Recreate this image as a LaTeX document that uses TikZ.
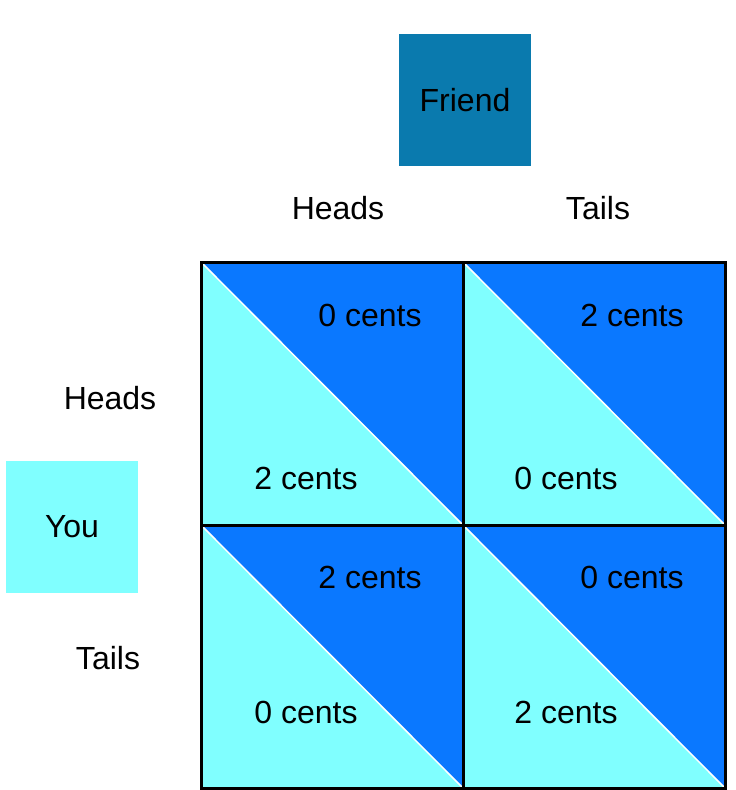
\documentclass[tikz,border=0pt]{standalone}
\usepackage{fontspec}
\setmainfont{Liberation Sans}
\definecolor{dark}{HTML}{0A78FF}
\definecolor{light}{HTML}{80FFFF}
\definecolor{friend}{HTML}{0A7AAE}
\begin{document}
\begin{tikzpicture}[x=1pt,y=-1pt,
  lbl/.style={font=\fontsize{32}{38}\selectfont,inner sep=0pt,anchor=center},
  player/.style={minimum width=132pt,minimum height=132pt,inner sep=0pt,font=\fontsize{32}{38}\selectfont}]
\useasboundingbox (0,0) rectangle (736,790);
\node[player,fill=friend] (friend) at (465,100) {Friend};
\node[player,fill=light] (you) at (72,527) {You};
\node[lbl] (ch) at (338,208) {Heads};
\node[lbl] (ct) at (598,208) {Tails};
\node[lbl] (rh) at (110,398) {Heads};
\node[lbl] (rt) at (108,658) {Tails};
\foreach \i/\x in {0/201,1/463}{
 \foreach \j/\y in {0/262,1/525}{
  \fill[light] (\x,\y) -- (\x+262,\y+263) -- (\x,\y+263) -- cycle;
  \fill[dark] (\x,\y) -- (\x+262,\y) -- (\x+262,\y+263) -- cycle;
  \draw[white,line width=1.5pt] (\x,\y) -- (\x+262,\y+263);
 }}
\draw[line width=3pt] (201,262) rectangle (725,788);
\draw[line width=3pt] (463,262) -- (463,788);
\draw[line width=3pt] (201,525) -- (725,525);
\node[lbl] (a1) at (370,315) {0 cents};
\node[lbl] (a2) at (306,478) {2 cents};
\node[lbl] (b1) at (632,315) {2 cents};
\node[lbl] (b2) at (566,478) {0 cents};
\node[lbl] (c1) at (370,577) {2 cents};
\node[lbl] (c2) at (306,712) {0 cents};
\node[lbl] (d1) at (632,577) {0 cents};
\node[lbl] (d2) at (566,712) {2 cents};
\end{tikzpicture}
\end{document}
